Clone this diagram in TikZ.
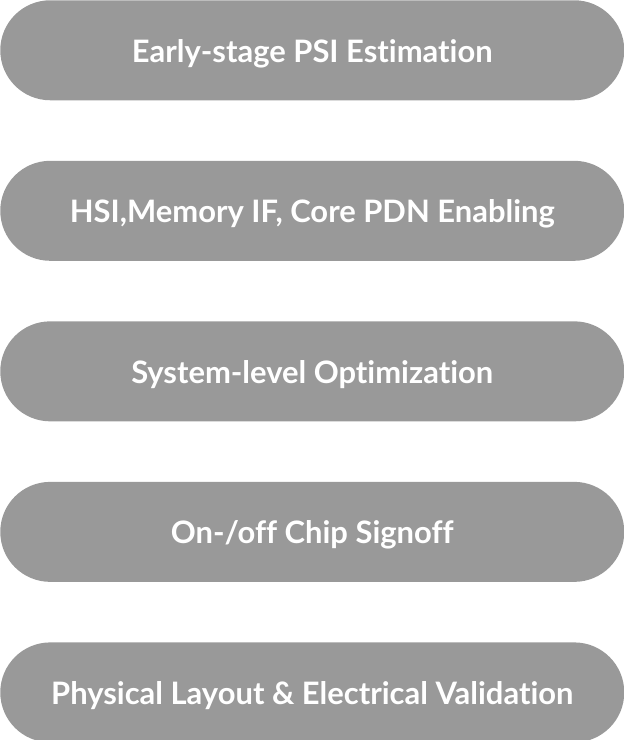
\documentclass[tikz,border=0pt]{standalone}
\usepackage{fontspec}
\setmainfont[Ligatures={NoCommon}]{Lato}
\usepackage{tikz}
\usetikzlibrary{
	positioning
}
\definecolor{pillgray}{HTML}{999999}
\tikzset{
	pill/.style={rectangle,rounded corners=37.5pt,fill=pillgray,text=white,
		minimum width=468pt,minimum height=75pt,inner sep=0pt,
		text height=18pt,text depth=0pt,
		font=\bfseries\fontsize{23.2}{27}\selectfont}
}

\begin{document}
\begin{tikzpicture}[node distance=45pt]
    \useasboundingbox (0,0) rectangle (468pt,-555pt);
    \draw
        node [pill,anchor=north west] (est) at (0,0) {Early-stage PSI Estimation}
        node [pill,below=of est] (pdn) {HSI,Memory IF, Core PDN Enabling}
        node [pill,below=of pdn] (opt) {System-level Optimization}
        node [pill,below=of opt] (sign) {On-/off Chip Signoff}
        node [pill,below=of sign] (val) {Physical Layout \& Electrical Validation}
    ;
\end{tikzpicture}
\end{document}
